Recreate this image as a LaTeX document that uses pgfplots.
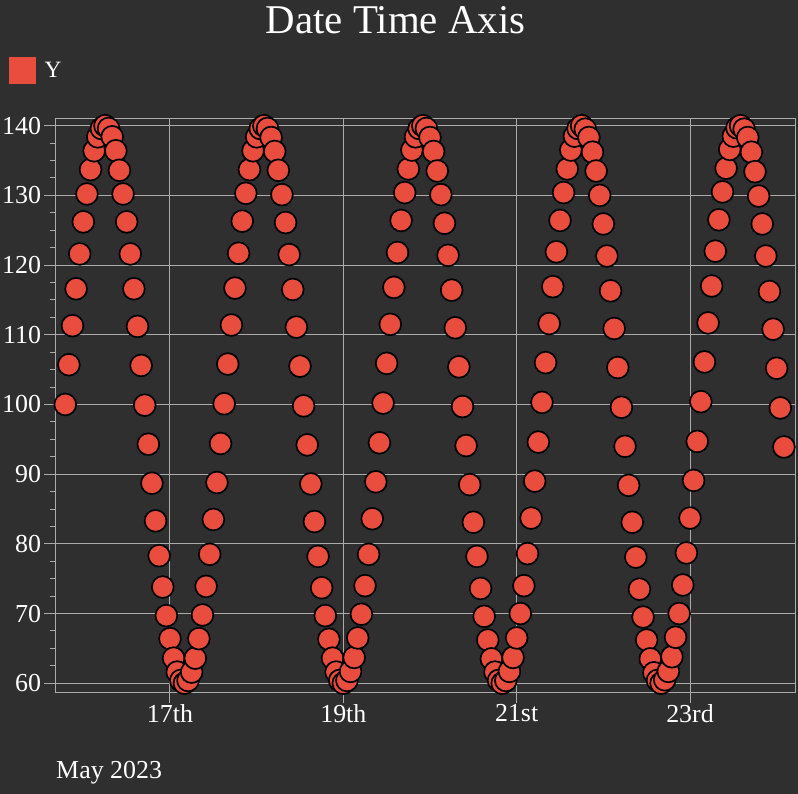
\documentclass[border=0pt]{standalone}
\usepackage{fontspec}
\setmainfont{Liberation Serif}
\usepackage{pgfplots}
\usepackage{pgfplotstable}
\pgfplotsset{compat=1.18}
\definecolor{bg}{HTML}{2F2F2F}
\definecolor{dot}{HTML}{E94D3D}
\definecolor{gridc}{HTML}{ABABAB}

% hourly samples, h = hours since May 15 19:00
\pgfplotstableread{
h y
0 100.0
1 105.7
2 111.3
3 116.6
4 121.6
5 126.2
6 130.2
7 133.7
8 136.4
9 138.4
10 139.6
11 140.0
12 139.6
13 138.4
14 136.4
15 133.6
16 130.2
17 126.2
18 121.6
19 116.6
20 111.2
21 105.6
22 99.9
23 94.3
24 88.7
25 83.3
26 78.3
27 73.8
28 69.7
29 66.4
30 63.6
31 61.6
32 60.4
33 60.0
34 60.4
35 61.6
36 63.6
37 66.4
38 69.8
39 73.9
40 78.5
41 83.5
42 88.8
43 94.4
44 100.1
45 105.8
46 111.4
47 116.7
48 121.7
49 126.3
50 130.3
51 133.7
52 136.4
53 138.4
54 139.6
55 140.0
56 139.6
57 138.3
58 136.3
59 133.6
60 130.1
61 126.1
62 121.5
63 116.5
64 111.1
65 105.5
66 99.8
67 94.2
68 88.6
69 83.2
70 78.2
71 73.7
72 69.7
73 66.3
74 63.6
75 61.6
76 60.4
77 60.0
78 60.4
79 61.7
80 63.7
81 66.5
82 69.9
83 74.0
84 78.5
85 83.6
86 88.9
87 94.5
88 100.2
89 105.9
90 111.5
91 116.8
92 121.8
93 126.4
94 130.4
95 133.8
96 136.5
97 138.4
98 139.6
99 140.0
100 139.6
101 138.3
102 136.3
103 133.5
104 130.1
105 126.0
106 121.4
107 116.4
108 111.0
109 105.4
110 99.7
111 94.1
112 88.5
113 83.1
114 78.2
115 73.6
116 69.6
117 66.2
118 63.5
119 61.6
120 60.4
121 60.0
122 60.4
123 61.7
124 63.7
125 66.5
126 70.0
127 74.0
128 78.6
129 83.7
130 89.0
131 94.6
132 100.3
133 106.0
134 111.6
135 116.9
136 121.9
137 126.4
138 130.4
139 133.8
140 136.5
141 138.5
142 139.6
143 140.0
144 139.5
145 138.3
146 136.2
147 133.5
148 130.0
149 125.9
150 121.3
151 116.3
152 110.9
153 105.3
154 99.6
155 94.0
156 88.4
157 83.1
158 78.1
159 73.5
160 69.5
161 66.2
162 63.5
163 61.5
164 60.4
165 60.0
166 60.5
167 61.7
168 63.8
169 66.6
170 70.0
171 74.1
172 78.7
173 83.7
174 89.1
175 94.7
176 100.4
177 106.1
178 111.7
179 117.0
180 122.0
181 126.5
182 130.5
183 133.9
184 136.6
185 138.5
186 139.7
187 140.0
188 139.5
189 138.3
190 136.2
191 133.4
192 129.9
193 125.9
194 121.3
195 116.2
196 110.8
197 105.2
198 99.5
199 93.9
}\sinedata

\begin{document}
\begin{tikzpicture}
\fill[bg] (0,0) rectangle (798bp,794bp);
\begin{axis}[
    at={(55.3bp,101.7bp)}, anchor=south west,
    width=740.4bp, height=574bp, scale only axis,
    xmin=-2.76, xmax=202.27, ymin=58.7, ymax=141.06,
    xtick={29,77,125,173}, xticklabels={17th,19th,21st,23rd},
    ytick={60,70,...,140}, minor y tick num=3,
    tick pos=left, tick align=outside,
    major tick length=11bp, minor tick length=5bp,
    tick style={gridc, line width=1bp},
    grid=major, major grid style={gridc, line width=1bp},
    axis line style={gridc, line width=1bp},
    tick label style={text=white, font=\fontsize{26}{28}\selectfont},
    /pgf/number format/assume math mode=true,
    yticklabel style={anchor=east, inner sep=0pt, xshift=-3bp},
    xticklabel style={anchor=north, inner sep=0pt, yshift=-1bp},
    title={Date Time Axis},
    title style={at={(axis description cs:0.4595,1.1486)}, anchor=base,
        yshift=-6bp, text=white, font=\fontsize{41}{45}\selectfont, inner sep=0pt},
    xlabel={May 2023},
    xlabel style={at={(axis description cs:0.001,-0.1493)}, anchor=base west,
        text=white, font=\fontsize{26}{28}\selectfont, inner sep=0pt},
    legend style={at={(axis description cs:-0.0625,1.1068)}, anchor=north west,
        draw=none, fill=none, inner sep=0pt, text=white,
        font=\fontsize{23.5}{25}\selectfont,
        /tikz/every odd column/.append style={column sep=7bp}},
    legend image code/.code={\fill[dot] (0bp,-13bp) rectangle (26bp,13bp);},
]
\addplot[only marks, mark=*, mark size=10.9bp,
    mark options={fill=dot, draw=black, line width=1.7bp}]
    table[x=h, y=y] {\sinedata};
\addlegendentry{Y}
\end{axis}
\pgfresetboundingbox
\path[use as bounding box] (0,0) rectangle (798bp,794bp);
\end{tikzpicture}
\end{document}
